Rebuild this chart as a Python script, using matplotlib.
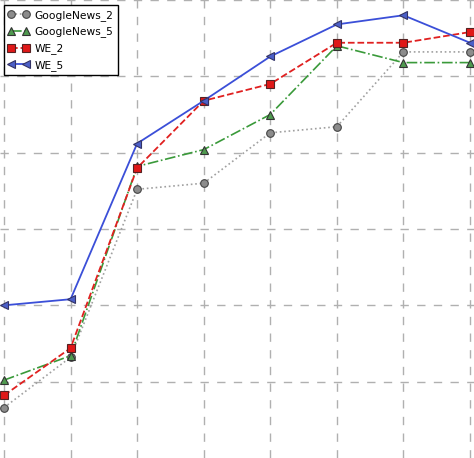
import numpy as np
import matplotlib
matplotlib.use('Agg')
import matplotlib.pyplot as plt

# values (grid rows every 5 units)
steps = [0, 1, 2, 3, 4, 5, 6, 7]
googlenews_2 = [38.3, 41.6, 52.6, 53.0, 56.3, 56.7, 61.6, 61.6]
googlenews_5 = [40.1, 41.7, 54.1, 55.2, 57.5, 62.0, 60.9, 60.9]
we_2 = [39.1, 42.2, 54.0, 58.4, 59.5, 62.2, 62.2, 62.9]
we_5 = [45.0, 45.4, 55.6, 58.4, 61.3, 63.4, 64.0, 62.2]

fig = plt.figure(figsize=(4.74, 4.58), dpi=100)
ax = fig.add_axes([0, 0, 1, 1])

ax.plot(steps, googlenews_2, ':', color='#a0a0a0', lw=1.2, marker='o',
        ms=5.5, mfc='#8c8c8c', mec='#444444', mew=0.8, label='GoogleNews_2')
ax.plot(steps, googlenews_5, '-.', color='#3a9a3a', lw=1.2, marker='^',
        ms=5.5, mfc='#4f9a4f', mec='#333333', mew=0.8, label='GoogleNews_5')
ax.plot(steps, we_2, '--', color='#e02020', lw=1.3, marker='s',
        ms=5.5, mfc='#e01818', mec='#552222', mew=0.8, label='WE_2')
ax.plot(steps, we_5, '-', color='#3b4fd8', lw=1.3, marker='<',
        ms=5.5, mfc='#4b5fc8', mec='#333366', mew=0.8, label='WE_5')

ax.set_xlim(-0.06, 7.06)
ax.set_ylim(35, 65)
ax.set_xticks(steps)
ax.set_yticks(np.arange(40, 66, 5))
ax.tick_params(length=0, labelbottom=False, labelleft=False)
ax.grid(True, color='#b0b0b0', linestyle=(0, (6, 6)), lw=1)
for s in ax.spines.values():
    s.set_visible(False)

leg = ax.legend(loc='upper left', bbox_to_anchor=(0.008, 0.988), fontsize=7.7,
                fancybox=False, edgecolor='black', framealpha=1, numpoints=2,
                handlelength=2.0, borderaxespad=0, borderpad=0.4,
                labelspacing=0.55, handletextpad=0.5)
leg.get_frame().set_linewidth(1.0)

fig.savefig('out.png', dpi=100)
